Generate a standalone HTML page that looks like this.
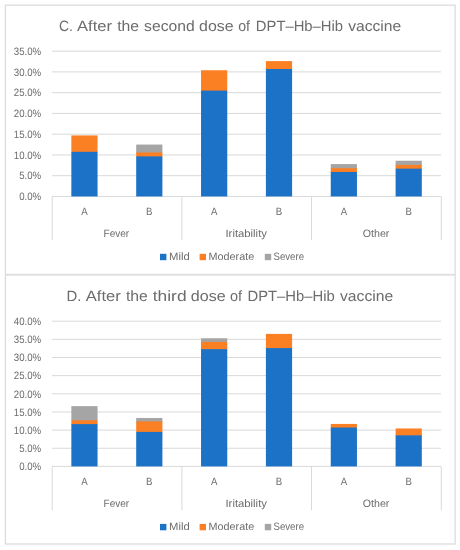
<!DOCTYPE html>
<html><head><meta charset="utf-8"><title>Chart</title>
<style>
html,body{margin:0;padding:0;background:#fff;}
svg{display:block;text-rendering:geometricPrecision;font-family:"Liberation Sans",sans-serif;}
</style></head><body>
<svg width="460" height="550" viewBox="0 0 460 550">
<rect x="0" y="0" width="460" height="550" fill="#fff"/>
<rect x="5.4" y="5.2" width="449.7" height="538.8" fill="none" stroke="#dcdcdc" stroke-width="1.3"/>
<line x1="5.4" x2="455.1" y1="274.85" y2="274.85" stroke="#e0e0e0" stroke-width="2"/>
<line x1="52" x2="441" y1="51.15" y2="51.15" stroke="#d9d9d9" stroke-width="1"/>
<text transform="translate(13.81,54.90) scale(0.9041,1)" font-size="10.7" fill="#6c6c6c">35.0%</text>
<line x1="52" x2="441" y1="71.91" y2="71.91" stroke="#d9d9d9" stroke-width="1"/>
<text transform="translate(13.81,75.66) scale(0.9041,1)" font-size="10.7" fill="#6c6c6c">30.0%</text>
<line x1="52" x2="441" y1="92.66" y2="92.66" stroke="#d9d9d9" stroke-width="1"/>
<text transform="translate(13.81,96.41) scale(0.9041,1)" font-size="10.7" fill="#6c6c6c">25.0%</text>
<line x1="52" x2="441" y1="113.42" y2="113.42" stroke="#d9d9d9" stroke-width="1"/>
<text transform="translate(13.81,117.17) scale(0.9041,1)" font-size="10.7" fill="#6c6c6c">20.0%</text>
<line x1="52" x2="441" y1="134.18" y2="134.18" stroke="#d9d9d9" stroke-width="1"/>
<text transform="translate(13.81,137.93) scale(0.9041,1)" font-size="10.7" fill="#6c6c6c">15.0%</text>
<line x1="52" x2="441" y1="154.94" y2="154.94" stroke="#d9d9d9" stroke-width="1"/>
<text transform="translate(13.81,158.69) scale(0.9041,1)" font-size="10.7" fill="#6c6c6c">10.0%</text>
<line x1="52" x2="441" y1="175.69" y2="175.69" stroke="#d9d9d9" stroke-width="1"/>
<text transform="translate(19.18,179.44) scale(0.9041,1)" font-size="10.7" fill="#6c6c6c">5.0%</text>
<line x1="52" x2="441" y1="196.45" y2="196.45" stroke="#d9d9d9" stroke-width="1"/>
<text transform="translate(19.18,200.20) scale(0.9041,1)" font-size="10.7" fill="#6c6c6c">0.0%</text>
<rect x="71.35" y="135.42" width="26.2" height="17.10" fill="#fb7f23"/>
<rect x="71.35" y="151.82" width="26.2" height="44.63" fill="#1b72c6"/>
<rect x="136.20" y="144.56" width="26.2" height="8.59" fill="#a5a5a5"/>
<rect x="136.20" y="152.44" width="26.2" height="4.64" fill="#fb7f23"/>
<rect x="136.20" y="156.39" width="26.2" height="40.06" fill="#1b72c6"/>
<rect x="201.05" y="70.25" width="26.2" height="21.04" fill="#fb7f23"/>
<rect x="201.05" y="90.59" width="26.2" height="105.86" fill="#1b72c6"/>
<rect x="265.90" y="61.11" width="26.2" height="8.59" fill="#fb7f23"/>
<rect x="265.90" y="69.00" width="26.2" height="127.45" fill="#1b72c6"/>
<rect x="330.75" y="164.07" width="26.2" height="4.85" fill="#a5a5a5"/>
<rect x="330.75" y="168.22" width="26.2" height="4.44" fill="#fb7f23"/>
<rect x="330.75" y="171.96" width="26.2" height="24.49" fill="#1b72c6"/>
<rect x="395.60" y="160.75" width="26.2" height="4.85" fill="#a5a5a5"/>
<rect x="395.60" y="164.90" width="26.2" height="4.44" fill="#fb7f23"/>
<rect x="395.60" y="168.64" width="26.2" height="27.81" fill="#1b72c6"/>
<line x1="52.2" x2="52.2" y1="196.45" y2="240.25" stroke="#d9d9d9" stroke-width="1"/>
<line x1="181.9" x2="181.9" y1="196.45" y2="240.25" stroke="#d9d9d9" stroke-width="1"/>
<line x1="311.5" x2="311.5" y1="196.45" y2="240.25" stroke="#d9d9d9" stroke-width="1"/>
<line x1="441.3" x2="441.3" y1="196.45" y2="240.25" stroke="#d9d9d9" stroke-width="1"/>
<text transform="translate(84.45,214.85) scale(0.9,1)" text-anchor="middle" font-size="10.7" fill="#6c6c6c">A</text>
<text transform="translate(149.30,214.85) scale(0.9,1)" text-anchor="middle" font-size="10.7" fill="#6c6c6c">B</text>
<text transform="translate(214.15,214.85) scale(0.9,1)" text-anchor="middle" font-size="10.7" fill="#6c6c6c">A</text>
<text transform="translate(279.00,214.85) scale(0.9,1)" text-anchor="middle" font-size="10.7" fill="#6c6c6c">B</text>
<text transform="translate(343.85,214.85) scale(0.9,1)" text-anchor="middle" font-size="10.7" fill="#6c6c6c">A</text>
<text transform="translate(408.70,214.85) scale(0.9,1)" text-anchor="middle" font-size="10.7" fill="#6c6c6c">B</text>
<text transform="translate(103.50,236.65) scale(0.9403,1)" font-size="10.7" fill="#6c6c6c">Fever</text>
<text transform="translate(225.48,236.65) scale(1.0573,1)" font-size="10.7" fill="#6c6c6c">Iritability</text>
<text transform="translate(362.82,236.65) scale(0.9938,1)" font-size="10.7" fill="#6c6c6c">Other</text>
<text y="30.65" font-size="14.9" fill="#6c6c6c"><tspan x="59.05" textLength="13.95" lengthAdjust="spacingAndGlyphs">C.</tspan> <tspan x="77.00" textLength="34.95" lengthAdjust="spacingAndGlyphs">After</tspan> <tspan x="117.26" textLength="21.87" lengthAdjust="spacingAndGlyphs">the</tspan> <tspan x="144.11" textLength="50.58" lengthAdjust="spacingAndGlyphs">second</tspan> <tspan x="199.11" textLength="34.58" lengthAdjust="spacingAndGlyphs">dose</tspan> <tspan x="238.18" textLength="11.80" lengthAdjust="spacingAndGlyphs">of</tspan> <tspan x="255.81" textLength="87.30" lengthAdjust="spacingAndGlyphs">DPT–Hb–Hib</tspan> <tspan x="348.17" textLength="53.06" lengthAdjust="spacingAndGlyphs">vaccine</tspan></text>
<rect x="160" y="253.80" width="6.4" height="6.4" fill="#1b72c6"/>
<rect x="199.6" y="253.80" width="6.4" height="6.4" fill="#fb7f23"/>
<rect x="264.8" y="253.80" width="6.4" height="6.4" fill="#a5a5a5"/>
<text transform="translate(169.10,260.10) scale(1.0562,1)" font-size="10.7" fill="#6c6c6c">Mild</text>
<text transform="translate(208.53,260.10) scale(1.0108,1)" font-size="10.7" fill="#6c6c6c">Moderate</text>
<text transform="translate(273.57,260.10) scale(0.8982,1)" font-size="10.7" fill="#6c6c6c">Severe</text>
<line x1="52" x2="441" y1="321.20" y2="321.20" stroke="#d9d9d9" stroke-width="1"/>
<text transform="translate(13.81,324.95) scale(0.9041,1)" font-size="10.7" fill="#6c6c6c">40.0%</text>
<line x1="52" x2="441" y1="339.35" y2="339.35" stroke="#d9d9d9" stroke-width="1"/>
<text transform="translate(13.81,343.10) scale(0.9041,1)" font-size="10.7" fill="#6c6c6c">35.0%</text>
<line x1="52" x2="441" y1="357.50" y2="357.50" stroke="#d9d9d9" stroke-width="1"/>
<text transform="translate(13.81,361.25) scale(0.9041,1)" font-size="10.7" fill="#6c6c6c">30.0%</text>
<line x1="52" x2="441" y1="375.65" y2="375.65" stroke="#d9d9d9" stroke-width="1"/>
<text transform="translate(13.81,379.40) scale(0.9041,1)" font-size="10.7" fill="#6c6c6c">25.0%</text>
<line x1="52" x2="441" y1="393.80" y2="393.80" stroke="#d9d9d9" stroke-width="1"/>
<text transform="translate(13.81,397.55) scale(0.9041,1)" font-size="10.7" fill="#6c6c6c">20.0%</text>
<line x1="52" x2="441" y1="411.95" y2="411.95" stroke="#d9d9d9" stroke-width="1"/>
<text transform="translate(13.81,415.70) scale(0.9041,1)" font-size="10.7" fill="#6c6c6c">15.0%</text>
<line x1="52" x2="441" y1="430.10" y2="430.10" stroke="#d9d9d9" stroke-width="1"/>
<text transform="translate(13.81,433.85) scale(0.9041,1)" font-size="10.7" fill="#6c6c6c">10.0%</text>
<line x1="52" x2="441" y1="448.25" y2="448.25" stroke="#d9d9d9" stroke-width="1"/>
<text transform="translate(19.18,452.00) scale(0.9041,1)" font-size="10.7" fill="#6c6c6c">5.0%</text>
<line x1="52" x2="441" y1="466.40" y2="466.40" stroke="#d9d9d9" stroke-width="1"/>
<text transform="translate(19.18,470.15) scale(0.9041,1)" font-size="10.7" fill="#6c6c6c">0.0%</text>
<rect x="71.35" y="406.14" width="26.2" height="14.86" fill="#a5a5a5"/>
<rect x="71.35" y="420.30" width="26.2" height="4.51" fill="#fb7f23"/>
<rect x="71.35" y="424.11" width="26.2" height="42.29" fill="#1b72c6"/>
<rect x="136.20" y="417.98" width="26.2" height="4.11" fill="#a5a5a5"/>
<rect x="136.20" y="421.39" width="26.2" height="11.23" fill="#fb7f23"/>
<rect x="136.20" y="431.91" width="26.2" height="34.49" fill="#1b72c6"/>
<rect x="201.05" y="338.26" width="26.2" height="4.33" fill="#a5a5a5"/>
<rect x="201.05" y="341.89" width="26.2" height="7.96" fill="#fb7f23"/>
<rect x="201.05" y="349.15" width="26.2" height="117.25" fill="#1b72c6"/>
<rect x="265.90" y="333.90" width="26.2" height="14.86" fill="#fb7f23"/>
<rect x="265.90" y="348.06" width="26.2" height="118.34" fill="#1b72c6"/>
<rect x="330.75" y="423.93" width="26.2" height="4.33" fill="#fb7f23"/>
<rect x="330.75" y="427.56" width="26.2" height="38.84" fill="#1b72c6"/>
<rect x="395.60" y="428.47" width="26.2" height="7.56" fill="#fb7f23"/>
<rect x="395.60" y="435.33" width="26.2" height="31.07" fill="#1b72c6"/>
<line x1="52.2" x2="52.2" y1="466.40" y2="510.20" stroke="#d9d9d9" stroke-width="1"/>
<line x1="181.9" x2="181.9" y1="466.40" y2="510.20" stroke="#d9d9d9" stroke-width="1"/>
<line x1="311.5" x2="311.5" y1="466.40" y2="510.20" stroke="#d9d9d9" stroke-width="1"/>
<line x1="441.3" x2="441.3" y1="466.40" y2="510.20" stroke="#d9d9d9" stroke-width="1"/>
<text transform="translate(84.45,485.10) scale(0.9,1)" text-anchor="middle" font-size="10.7" fill="#6c6c6c">A</text>
<text transform="translate(149.30,485.10) scale(0.9,1)" text-anchor="middle" font-size="10.7" fill="#6c6c6c">B</text>
<text transform="translate(214.15,485.10) scale(0.9,1)" text-anchor="middle" font-size="10.7" fill="#6c6c6c">A</text>
<text transform="translate(279.00,485.10) scale(0.9,1)" text-anchor="middle" font-size="10.7" fill="#6c6c6c">B</text>
<text transform="translate(343.85,485.10) scale(0.9,1)" text-anchor="middle" font-size="10.7" fill="#6c6c6c">A</text>
<text transform="translate(408.70,485.10) scale(0.9,1)" text-anchor="middle" font-size="10.7" fill="#6c6c6c">B</text>
<text transform="translate(103.50,506.90) scale(0.9403,1)" font-size="10.7" fill="#6c6c6c">Fever</text>
<text transform="translate(225.48,506.90) scale(1.0573,1)" font-size="10.7" fill="#6c6c6c">Iritability</text>
<text transform="translate(362.82,506.90) scale(0.9938,1)" font-size="10.7" fill="#6c6c6c">Other</text>
<text y="300.55" font-size="14.9" fill="#6c6c6c"><tspan x="66.40" textLength="14.94" lengthAdjust="spacingAndGlyphs">D.</tspan> <tspan x="85.75" textLength="34.95" lengthAdjust="spacingAndGlyphs">After</tspan> <tspan x="126.01" textLength="21.87" lengthAdjust="spacingAndGlyphs">the</tspan> <tspan x="152.74" textLength="33.81" lengthAdjust="spacingAndGlyphs">third</tspan> <tspan x="190.86" textLength="34.84" lengthAdjust="spacingAndGlyphs">dose</tspan> <tspan x="229.92" textLength="12.06" lengthAdjust="spacingAndGlyphs">of</tspan> <tspan x="247.52" textLength="87.19" lengthAdjust="spacingAndGlyphs">DPT–Hb–Hib</tspan> <tspan x="340.02" textLength="53.22" lengthAdjust="spacingAndGlyphs">vaccine</tspan></text>
<rect x="160" y="523.90" width="6.4" height="6.4" fill="#1b72c6"/>
<rect x="199.6" y="523.90" width="6.4" height="6.4" fill="#fb7f23"/>
<rect x="264.8" y="523.90" width="6.4" height="6.4" fill="#a5a5a5"/>
<text transform="translate(169.10,530.20) scale(1.0562,1)" font-size="10.7" fill="#6c6c6c">Mild</text>
<text transform="translate(208.53,530.20) scale(1.0108,1)" font-size="10.7" fill="#6c6c6c">Moderate</text>
<text transform="translate(273.57,530.20) scale(0.8982,1)" font-size="10.7" fill="#6c6c6c">Severe</text>
</svg>
</body></html>
